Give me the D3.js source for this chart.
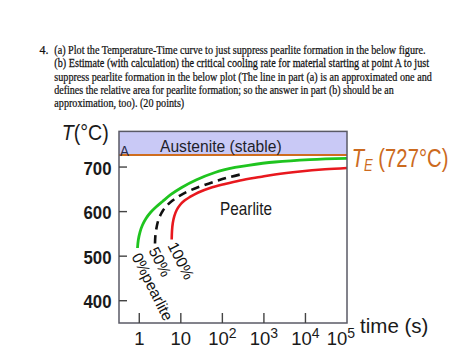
<!DOCTYPE html>
<html><head><meta charset="utf-8">
<script src="https://cdn.jsdelivr.net/npm/d3@7"></script>
<style>html,body{margin:0;padding:0;background:#fff;} svg{display:block;}</style>
</head><body>
<svg id="c" width="474" height="356"></svg>
<script>
// ---------- data ----------
const questionNumber = "4.";
const questionLines = [
  "(a) Plot the Temperature-Time curve to just suppress pearlite formation in the below figure.",
  "(b) Estimate (with calculation) the critical cooling rate for material starting at point A to just",
  "suppress pearlite formation in the below plot (The line in part (a) is an approximated one and",
  "defines the relative area for pearlite formation; so the answer in part (b) should be an",
  "approximation, too). (20 points)"
];
const xTickTimes = [1, 10, 100, 1000, 10000];
const xLabelTimes = [1, 10, 100, 1000, 10000, 100000];
const xLabelBase = ["1", "10", "10", "10", "10", "10"];
const xLabelExp = ["", "", "2", "3", "4", "5"];
const yTickTemps = [400, 500, 600, 700];
const eutectoidTemp = 727;

// 0% pearlite (start) curve: time (s), temperature (°C)
const start0Time = [0.906, 0.947, 1.041, 1.195, 1.451, 1.862, 2.527, 3.622, 5.80, 10.5, 23.2, 66.5, 201, 421, 1849, 12860, 100000];
const start0Temp = [518.3, 536.3, 554.2, 569.9, 584.5, 598, 610.3, 622.7, 638.4, 654.1, 670.9, 687.8, 699, 703.9, 711.3, 716.7, 719.4];
// 50% pearlite curve (dashed)
const half50Time = [2.39, 2.44, 2.57, 2.79, 3.15, 3.72, 4.65, 6.31, 9.55, 16.6, 34.2, 78.5, 152.7, 319];
const half50Temp = [528.4, 545.3, 561, 576.7, 590.1, 602.5, 613.7, 624.9, 636.1, 647.4, 658.6, 669.8, 677.7, 684.8];
// 100% pearlite (finish) curve
const finish100Time = [6.03, 6.13, 6.41, 6.97, 7.96, 9.55, 12.26, 16.6, 26.3, 50.4, 115.7, 265.7, 805, 1849, 7390, 29540, 100000];
const finish100Temp = [537.4, 556.5, 574.4, 590.1, 603.6, 614.8, 624.9, 632.8, 642.9, 653, 662, 669.8, 677.7, 683.3, 690, 694.9, 697.9];

const curveLabels = ["0%pearlite", "50%", "100%"];
const regionLabels = ["Austenite (stable)", "Pearlite", "A"];

// ---------- drawing ----------
const svg = d3.select("#c");
svg.append("rect").attr("width", 474).attr("height", 356).attr("fill", "#fff");

function fit(sel, target) {
  const w = sel.node().getComputedTextLength();
  const x = +sel.attr("x"), y = +sel.attr("y");
  sel.attr("x", 0).attr("y", 0)
     .attr("transform", `translate(${x},${y}) scale(${target / w},1)`);
  return sel;
}

// question text
const qWidths = [371.7, 375, 377.7, 339.7, 130];
const qg = svg.append("g").attr("font-family", "'Liberation Serif','Times New Roman',serif")
  .attr("font-size", 13).attr("fill", "#111").attr("stroke", "#111").attr("stroke-width", 0.25);
qg.append("text").attr("x", 39.5).attr("y", 54).attr("font-size", 12).text(questionNumber);
questionLines.forEach((s, i) => {
  const t = qg.append("text").attr("x", 54.3).attr("y", 54 + i * 13.3).text(s);
  fit(t, qWidths[i]);
});

// chart
const L = 119, R = 347, T = 131.4, B = 323;
const x = d3.scaleLog().domain([0.325, 100000]).range([L, R]);
const y = d3.scaleLinear().domain([350, 780]).range([B, T]);
const font = "'Liberation Sans', Arial, sans-serif";

// austenite band
svg.append("rect").attr("x", L).attr("y", y(780)).attr("width", R - L)
  .attr("height", y(eutectoidTemp) - y(780)).attr("fill", "#c9c9f6");
// eutectoid line
svg.append("line").attr("x1", L).attr("x2", R).attr("y1", y(eutectoidTemp)).attr("y2", y(eutectoidTemp))
  .attr("stroke", "#cf6d1f").attr("stroke-width", 2.2);

const line = d3.line().x(d => x(d[0])).y(d => y(d[1])).curve(d3.curveCatmullRom.alpha(0.5));
const zip = (a, b) => a.map((v, i) => [v, b[i]]);

svg.append("path").attr("d", line(zip(start0Time, start0Temp)))
  .attr("fill", "none").attr("stroke", "#1fc41f").attr("stroke-width", 2.8);
svg.append("path").attr("d", line(zip(half50Time, half50Temp)))
  .attr("fill", "none").attr("stroke", "#111").attr("stroke-width", 2.6)
  .attr("stroke-dasharray", "8.5,5.5");
svg.append("path").attr("d", line(zip(finish100Time, finish100Temp)))
  .attr("fill", "none").attr("stroke", "#e8181e").attr("stroke-width", 2.6);

// frame
svg.append("rect").attr("x", L).attr("y", T).attr("width", R - L).attr("height", B - T)
  .attr("fill", "none").attr("stroke", "#5a5a66").attr("stroke-width", 1.5);

// ticks
svg.selectAll(".xt").data(xTickTimes).enter().append("line")
  .attr("x1", d => x(d)).attr("x2", d => x(d)).attr("y1", B).attr("y2", B - 10)
  .attr("stroke", "#444").attr("stroke-width", 1.4);
svg.selectAll(".yt").data(yTickTemps).enter().append("line")
  .attr("x1", L).attr("x2", L + 8).attr("y1", d => y(d)).attr("y2", d => y(d))
  .attr("stroke", "#444").attr("stroke-width", 1.4);

// y labels
yTickTemps.forEach(v => {
  const t = svg.append("text").attr("x", 111.5).attr("y", y(v) + 7.5)
    .attr("text-anchor", "end").attr("font-family", font).attr("font-weight", "bold")
    .attr("font-size", 19).attr("fill", "#1a1a1a").text(v);
  fit(t, 28);
});

// x labels
xLabelTimes.forEach((v, i) => {
  const t = svg.append("text").attr("x", x(v)).attr("y", 345)
    .attr("text-anchor", "middle").attr("font-family", font)
    .attr("font-size", 18.5).attr("fill", "#1a1a1a");
  t.append("tspan").text(xLabelBase[i]);
  if (xLabelExp[i]) t.append("tspan").attr("font-size", 14).attr("dy", -7).text(xLabelExp[i]);
  const w = t.node().getComputedTextLength();
  if (x(v) + w / 2 > R + 8) t.attr("x", R + 8 - w / 2);
});

// axis titles
const yt = svg.append("text").attr("x", 61.7).attr("y", 139.5).attr("font-family", font)
  .attr("font-size", 21.5).attr("fill", "#1a1a1a");
yt.append("tspan").attr("font-style", "italic").text("T");
yt.append("tspan").text("(°C)");
fit(yt, 47);

const xt = svg.append("text").attr("x", 360).attr("y", 333).attr("font-family", font)
  .attr("font-size", 21).attr("fill", "#1a1a1a").text("time (s)");
fit(xt, 68.5);

// TE label
const te = svg.append("text").attr("x", 351.7).attr("y", 166.5).attr("font-family", font)
  .attr("font-size", 25).attr("fill", "#cc6a1e");
te.append("tspan").attr("font-style", "italic").text("T");
te.append("tspan").attr("font-style", "italic").attr("font-size", 16).attr("dy", 4).text("E");
te.append("tspan").attr("dy", -4).text(" (" + eutectoidTemp + "°C)");
fit(te, 96.7);

// region labels
fit(svg.append("text").attr("x", 160).attr("y", 151.7).attr("font-family", font)
  .attr("font-size", 17).attr("fill", "#1e1e2a").text(regionLabels[0]), 121.7);
fit(svg.append("text").attr("x", 220).attr("y", 214.5).attr("font-family", font)
  .attr("font-size", 18).attr("fill", "#1a1a1a").text(regionLabels[1]), 52);
fit(svg.append("text").attr("x", 120).attr("y", 156).attr("font-family", font)
  .attr("font-size", 14).attr("fill", "#2a2a4a").text(regionLabels[2]), 9);

// rotated curve labels
const curveLabelPos = [[131.3, 256.4], [148.3, 250.4], [167.3, 245.4]];
curveLabels.forEach((s, i) => {
  svg.append("text").attr("transform", `translate(${curveLabelPos[i][0]},${curveLabelPos[i][1]}) rotate(63.4)`)
    .attr("font-family", font).attr("font-size", 15.5).attr("fill", "#111").text(s);
});
</script>
</body></html>
